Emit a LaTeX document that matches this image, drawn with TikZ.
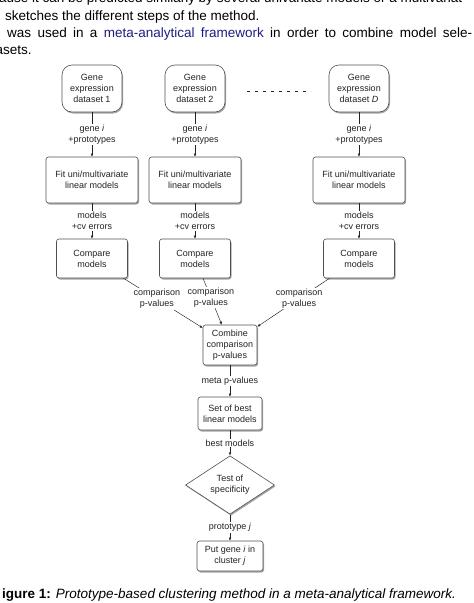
\documentclass[tikz,border=0pt]{standalone}
\usepackage{fontspec}
\setmainfont{Liberation Sans}
\usepackage{xcolor}
\definecolor{linkblue}{RGB}{30,30,130}
\definecolor{boxedge}{RGB}{80,80,80}
\definecolor{inkgray}{RGB}{35,35,35}
\usetikzlibrary{shapes.geometric,arrows.meta,shadows}
\newcommand{\bodysize}{\fontsize{13.5}{17}\selectfont}

\begin{document}
\begin{tikzpicture}[x=1pt, y=-1pt, >=Latex,
  every node/.style={font=\fontsize{9}{11}\selectfont, text=inkgray},
  shade box/.style={draw=boxedge, fill=white, line width=0.6pt, align=center, inner sep=1pt,
    drop shadow={shadow xshift=1pt, shadow yshift=-1.5pt, opacity=0.35, fill=black}},
  dataset/.style={shade box, rounded corners=10pt, minimum width=60pt, minimum height=47pt},
  procbox/.style={shade box, rounded corners=2.5pt},
  decision/.style={shade box, diamond, minimum width=89pt, minimum height=46pt, inner sep=0pt},
  flow/.style={->, draw=inkgray, line width=0.45pt, -{Latex[length=3pt, width=2.6pt]}},
  lbl/.style={fill=white, align=center, inner sep=1pt},
  bodyline/.style={anchor=base west, inner sep=0pt, font=\bodysize, text=black}]

\useasboundingbox (0,0) rectangle (474,603);
\clip (0,0) rectangle (474,603);
\fill[white] (0,0) rectangle (474,603);

% surrounding page text
\node[bodyline] (lineA) at (-1,2.5) {ause it can be predicted similarly by several univariate models or a multivariat};
\node[bodyline] (lineB) at (5,20) {sketches the different steps of the method.};
\node[bodyline] (lineC) at (7,37) {\makebox[465pt][s]{was used in a \textcolor{linkblue}{meta-analytical framework} in order to combine model sele-}};
\node[bodyline] (lineD) at (-4.5,54) {asets.};

% merging part
\node[procbox, minimum width=54pt, minimum height=40pt] (comb) at (230,345) {Combine\\comparison\\p-values};
\node[procbox, minimum width=64pt, minimum height=33pt] (best) at (230,413.5) {Set of best\\linear models};
\node[decision] (spec) at (230,485) {Test of\\specificity};
\node[procbox, minimum width=66pt, minimum height=30pt] (put) at (230,556) {Put gene \textit{i} in\\cluster \textit{j}};

% one column per dataset
\foreach \idx/\x/\lab in {1/92/1, 2/195/2, D/359/{\textit{D}}}{
  \node[dataset] (ds\idx) at (\x,88.5) {Gene\\expression\\dataset \lab};
  \node[procbox, minimum width=92pt, minimum height=46pt] (fit\idx) at (\x,180) {Fit uni/multivariate\\linear models};
  \node[procbox, minimum width=71pt, minimum height=39pt] (cmp\idx) at (\x,258.5) {Compare\\models};
  \draw[flow] (ds\idx) -- node[lbl]{gene \textit{i}\\+prototypes} (fit\idx);
  \draw[flow] (fit\idx) -- node[lbl]{models\\+cv errors} (cmp\idx);
  \draw[flow] (cmp\idx) -- node[lbl, pos=0.42]{comparison\\p-values} (comb);
}

% more datasets
\coordinate (dotsL) at (247,91);
\coordinate (dotsR) at (311,91);
\draw[inkgray, line width=0.6pt, dash pattern=on 3pt off 5pt] (dotsL) -- (dotsR);

\draw[flow] (comb) -- node[lbl]{meta p-values} (best);
\draw[flow] (best) -- node[lbl]{best models} (spec);
\draw[flow] (spec) -- node[lbl]{prototype \textit{j}} (put);

% caption
\node[bodyline] (capt) at (2,598) {\textbf{igure 1:} \textit{Prototype-based clustering method in a meta-analytical framework.}};
\end{tikzpicture}
\end{document}
